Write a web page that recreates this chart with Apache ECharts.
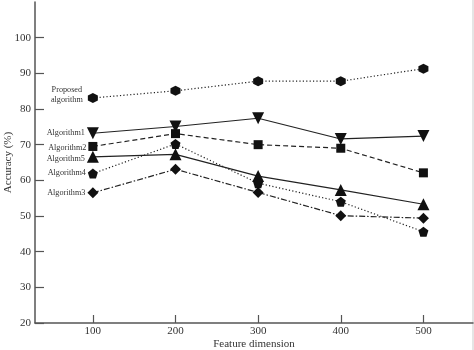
<!DOCTYPE html>
<html>
<head>
<meta charset="utf-8">
<script src="https://cdn.jsdelivr.net/npm/echarts@6/dist/echarts.min.js"></script>
<style>
html,body{margin:0;padding:0;background:#fff;}
#chart{width:474px;height:350px;}
</style>
</head>
<body>
<div id="chart"></div>
<script>
var featureDims = [100, 200, 300, 400, 500];
var yTicks = [20, 30, 40, 50, 60, 70, 80, 90, 100];
var seriesNames = ['Proposed\nalgorithm', 'Algorithm1', 'Algorithm2', 'Algorithm5', 'Algorithm4', 'Algorithm3'];
var proposed   = [83.1, 85.1, 87.8, 87.8, 91.3];
var algorithm1 = [73.2, 75.1, 77.4, 71.6, 72.4];
var algorithm2 = [69.5, 73.1, 70.0, 69.0, 62.1];
var algorithm5 = [66.6, 67.3, 61.2, 57.3, 53.3];
var algorithm4 = [61.9, 70.2, 59.2, 54.0, 45.6];
var algorithm3 = [56.5, 63.1, 56.6, 50.1, 49.4];

var hexagon = 'path://M0,-10L8.66,-5L8.66,5L0,10L-8.66,5L-8.66,-5Z';
var pentagon = 'path://M0,-10L9.51,-3.09L5.88,8.09L-5.88,8.09L-9.51,-3.09Z';
var serif = 'Liberation Serif';

function mk(name, vals, symbol, size, lineType, rot) {
  return {
    name: name,
    type: 'line',
    data: featureDims.map(function (d, i) { return [d, vals[i]]; }),
    symbol: symbol,
    symbolSize: size,
    symbolRotate: rot || 0,
    showAllSymbol: true,
    lineStyle: { color: '#222', width: 1.2, type: lineType },
    itemStyle: { color: '#111' },
    label: { show: false },
    emphasis: { disabled: true },
    animation: false,
    z: 2
  };
}

var series = [
  mk(seriesNames[0], proposed, hexagon, 10, [1.2, 2.2]),
  mk(seriesNames[1], algorithm1, 'triangle', 12, 'solid', 180),
  mk(seriesNames[2], algorithm2, 'rect', 9, [5, 3]),
  mk(seriesNames[3], algorithm5, 'triangle', 12, 'solid'),
  mk(seriesNames[4], algorithm4, pentagon, 10, [1.2, 2.2]),
  mk(seriesNames[5], algorithm3, 'diamond', 11, [6, 2, 1.5, 2])
];
var offsets = [[-19, -3], [0, 0], [0, 1], [0, 2], [0, -1], [0, 0]];
series.forEach(function (s, k) {
  s.data = s.data.map(function (p, i) {
    if (i === 0) {
      return {
        value: p,
        label: {
          show: true, position: 'left', distance: 2,
          formatter: s.name,
          fontFamily: serif, fontSize: 8.2, color: '#333',
          align: k === 0 ? 'center' : 'right', lineHeight: 10,
          offset: offsets[k]
        }
      };
    }
    return p;
  });
});

var chart = echarts.init(document.getElementById('chart'), null, { renderer: 'canvas' });
chart.setOption({
  animation: false,
  backgroundColor: '#fff',
  grid: { left: 35, right: 1, top: 2, bottom: 27, containLabel: false, outerBoundsMode: 'none' },
  xAxis: {
    type: 'value', min: 30, max: 560,
    name: 'Feature dimension', nameLocation: 'middle', nameGap: 16, nameMoveOverlap: false,
    nameTextStyle: { fontFamily: serif, fontSize: 11, color: '#333' },
    axisLine: { show: true, lineStyle: { color: '#555', width: 1.5 } },
    axisTick: { show: true, inside: true, length: 8, lineStyle: { color: '#555', width: 1.2 }, customValues: featureDims },
    axisLabel: { fontFamily: serif, fontSize: 11, color: '#333', margin: 3, customValues: featureDims },
    splitLine: { show: false }
  },
  yAxis: {
    type: 'value', min: 20, max: 110,
    name: 'Accuracy (%)', nameLocation: 'middle', nameGap: 21, nameRotate: 90, nameMoveOverlap: false,
    nameTextStyle: { fontFamily: serif, fontSize: 11, color: '#333' },
    axisLine: { show: true, lineStyle: { color: '#555', width: 1.5 } },
    axisTick: { show: true, inside: true, length: 9, lineStyle: { color: '#555', width: 1.2 }, customValues: yTicks },
    axisLabel: { fontFamily: serif, fontSize: 11, color: '#333', margin: 4, customValues: yTicks },
    splitLine: { show: false }
  },
  graphic: [{
    type: 'line', shape: { x1: 473, y1: 0, x2: 473, y2: 350 },
    style: { stroke: '#ddd', lineWidth: 1.5 }, silent: true
  }],
  series: series
});
</script>
</body>
</html>
